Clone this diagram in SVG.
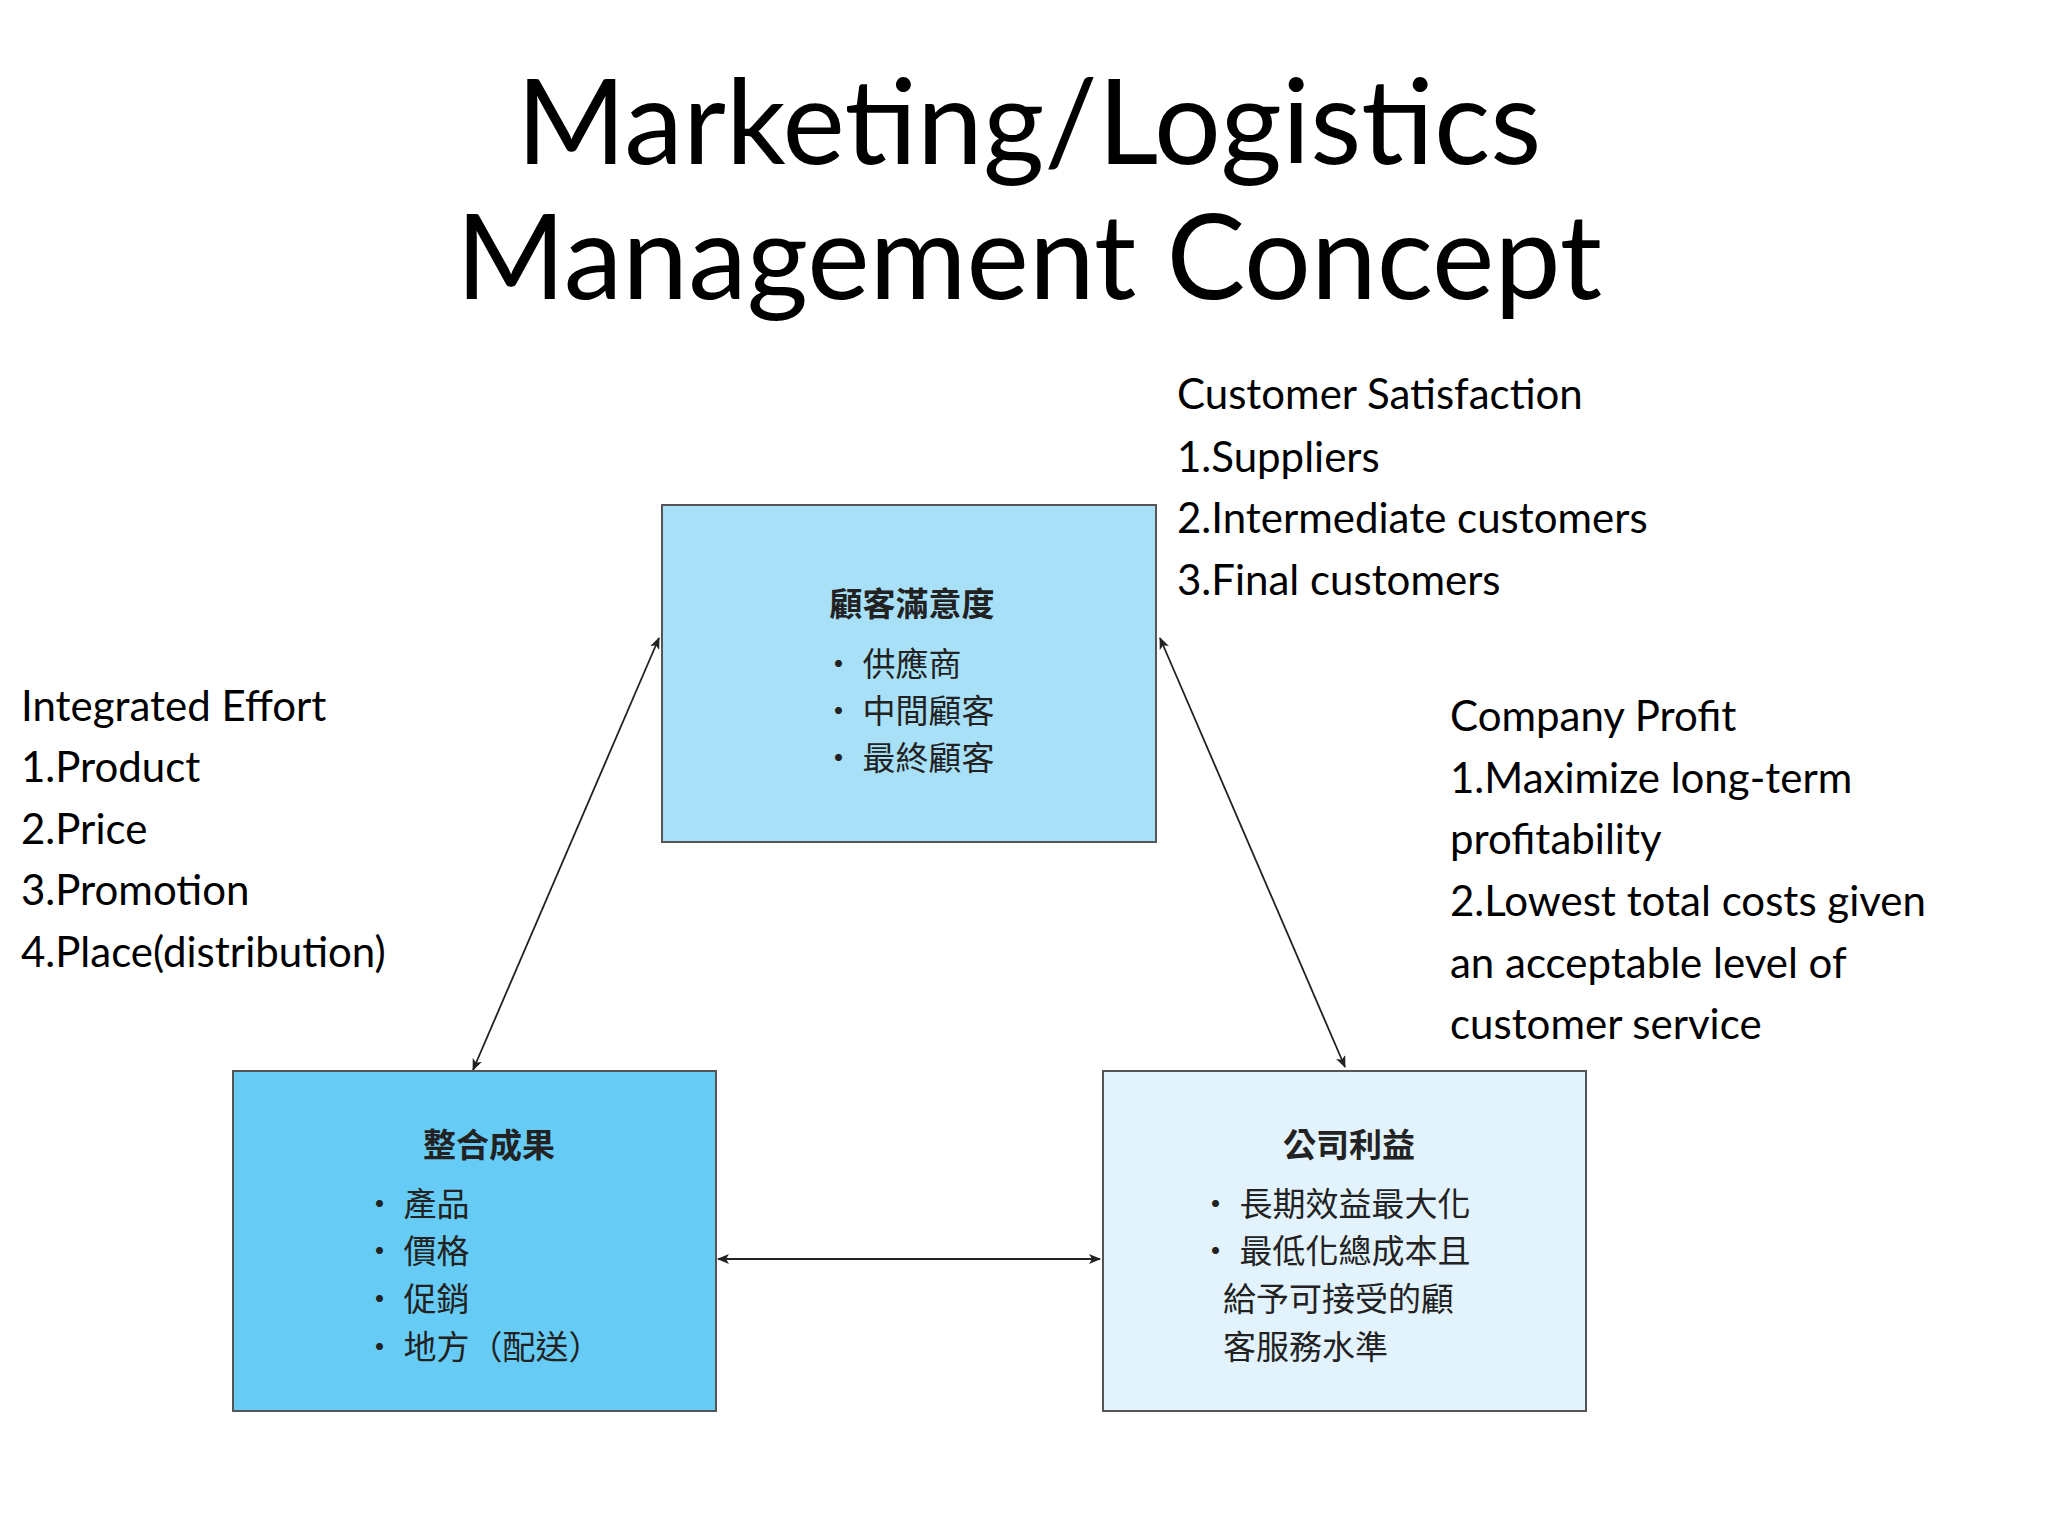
<svg xmlns="http://www.w3.org/2000/svg" width="2048" height="1536" viewBox="0 0 2048 1536">
<style>
.t{font-family:Lato,"Noto Sans",sans-serif;fill:#000}
.h{font-size:118px;text-anchor:middle}
.e{font-size:42px}
.c{font-family:"Noto Sans CJK TC","Noto Sans",sans-serif;font-size:33px;fill:#222}
.b{font-weight:bold;text-anchor:middle}
.box{stroke:#555;stroke-width:2}
.ln{stroke:#222;stroke-width:1.8;fill:none;marker-start:url(#a);marker-end:url(#a)}
</style>
<defs><marker id="a" viewBox="0 0 12 10" refX="11" refY="5" markerWidth="12" markerHeight="10" markerUnits="userSpaceOnUse" orient="auto-start-reverse"><path d="M0,0 L12,5 L0,10 L3,5 Z" fill="#222"/></marker></defs>
<rect width="2048" height="1536" fill="#fff"/>
<g id="title"><text class="t h" x="1029" y="164">Marketing/Logistics</text><text class="t h" x="1029" y="299">Management Concept</text></g>
<g id="connectors">
<line class="ln" x1="659" y1="638" x2="473" y2="1070"/>
<line class="ln" x1="1160" y1="638" x2="1345" y2="1067"/>
<line class="ln" x1="718" y1="1259" x2="1100" y2="1259"/>
</g>
<g id="n1"><rect class="box" x="662" y="505" width="494" height="337" fill="#a8e0f8"/>
<text class="c b" x="912" y="616">顧客滿意度</text>
<text class="c" x="822" y="676">• 供應商</text><text class="c" x="822" y="723">• 中間顧客</text><text class="c" x="822" y="770">• 最終顧客</text></g>
<g id="n2"><rect class="box" x="233" y="1071" width="483" height="340" fill="#66ccf5"/>
<text class="c b" x="489" y="1157">整合成果</text>
<text class="c" x="363" y="1216">• 產品</text><text class="c" x="363" y="1263">• 價格</text><text class="c" x="363" y="1311">• 促銷</text><text class="c" x="363" y="1359">• 地方（配送）</text></g>
<g id="n3"><rect class="box" x="1103" y="1071" width="483" height="340" fill="#e2f3fd"/>
<text class="c b" x="1349" y="1157">公司利益</text>
<text class="c" x="1199" y="1216">• 長期效益最大化</text><text class="c" x="1199" y="1263">• 最低化總成本且</text><text class="c" x="1223" y="1311">給予可接受的顧</text><text class="c" x="1223" y="1359">客服務水準</text></g>
<g id="left"><text class="t e" x="21" y="721">Integrated Effort</text><text class="t e" x="21" y="782">1.Product</text><text class="t e" x="21" y="844">2.Price</text><text class="t e" x="21" y="905">3.Promotion</text><text class="t e" x="21" y="967">4.Place(distribution)</text></g>
<g id="top"><text class="t e" x="1177" y="409">Customer Satisfaction</text><text class="t e" x="1177" y="472">1.Suppliers</text><text class="t e" x="1177" y="533">2.Intermediate customers</text><text class="t e" x="1177" y="595">3.Final customers</text></g>
<g id="right"><text class="t e" x="1450" y="731">Company Profit</text><text class="t e" x="1450" y="793">1.Maximize long-term</text><text class="t e" x="1450" y="854">profitability</text><text class="t e" x="1450" y="916">2.Lowest total costs given</text><text class="t e" x="1450" y="978">an acceptable level of</text><text class="t e" x="1450" y="1039">customer service</text></g>
</svg>
